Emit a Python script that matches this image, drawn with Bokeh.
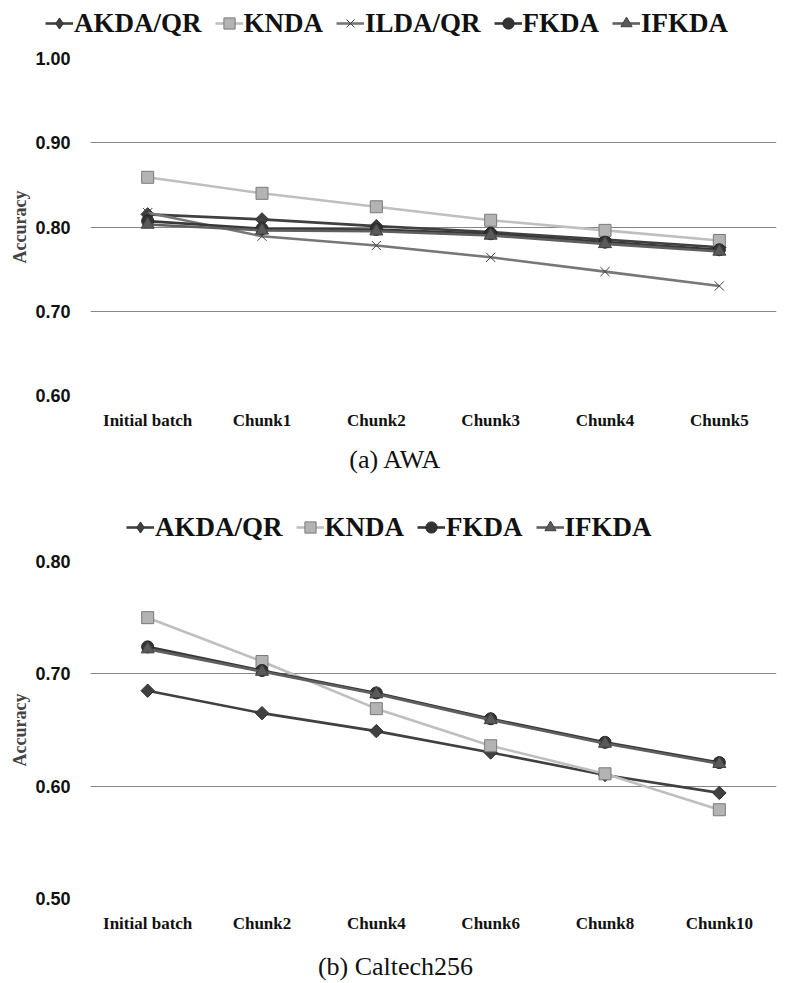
import math
from bokeh.plotting import figure
from bokeh.models import (Range1d, FactorRange, FixedTicker, NumeralTickFormatter,
                          Legend, LegendItem, Label)
from bokeh.layouts import column, row
from bokeh.embed import file_html
from bokeh.resources import INLINE

# ---------------- data ----------------
awa_categories = ["Initial batch", "Chunk1", "Chunk2", "Chunk3", "Chunk4", "Chunk5"]
awa_akda = [0.815, 0.809, 0.801, 0.794, 0.785, 0.776]
awa_knda = [0.859, 0.840, 0.824, 0.808, 0.796, 0.784]
awa_ilda = [0.817, 0.789, 0.778, 0.764, 0.747, 0.730]
awa_fkda = [0.807, 0.798, 0.797, 0.792, 0.782, 0.773]
awa_ifkda = [0.803, 0.796, 0.795, 0.790, 0.780, 0.771]
awa_ticks = [0.60, 0.70, 0.80, 0.90, 1.00]

cal_categories = ["Initial batch", "Chunk2", "Chunk4", "Chunk6", "Chunk8", "Chunk10"]
cal_akda = [0.685, 0.665, 0.649, 0.630, 0.610, 0.594]
cal_knda = [0.750, 0.711, 0.669, 0.636, 0.611, 0.579]
cal_fkda = [0.724, 0.703, 0.683, 0.660, 0.639, 0.621]
cal_ifkda = [0.722, 0.702, 0.682, 0.659, 0.638, 0.620]
cal_ticks = [0.50, 0.60, 0.70, 0.80]

# ---------------- styles ----------------
STYLE = {
    "AKDA/QR": dict(line="#404040", marker="square", size=9.5, fill="#404040", edge="#303030", angle=math.pi / 4),
    "KNDA": dict(line="#bfbfbf", marker="square", size=12, fill="#b3b3b3", edge="#7a7a7a", angle=0),
    "ILDA/QR": dict(line="#777777", marker="x", size=13, fill="#404040", edge="#404040", angle=0),
    "FKDA": dict(line="#383838", marker="circle", size=12, fill="#333333", edge="#222222", angle=0),
    "IFKDA": dict(line="#5f5f5f", marker="triangle", size=13, fill="#5a5a5a", edge="#404040", angle=0),
}

SERIF = "Liberation Serif"
SANS = "Liberation Sans"
W = 784


def blank(height):
    f = figure(width=W, height=height, x_range=Range1d(0, W), y_range=Range1d(0, height),
               x_axis_location=None, y_axis_location=None, output_backend="svg",
               toolbar_location=None, min_border=0)
    f.min_border_left = 0
    f.min_border_right = 0
    f.min_border_top = 0
    f.min_border_bottom = 0
    f.outline_line_color = None
    f.background_fill_color = "white"
    f.border_fill_color = "white"
    f.grid.grid_line_color = None
    return f


def draw(p, name, xs, vals, for_legend=False):
    st = STYLE[name]
    marker = st["marker"]
    angle = st["angle"]
    if for_legend and angle:
        marker, angle = "diamond", 0
    lr = p.line(xs, vals, line_color=st["line"], line_width=2.6)
    sr = p.scatter(xs, vals, marker=marker, size=st["size"],
                   fill_color=st["fill"], line_color=st["edge"], line_width=1,
                   angle=angle)
    return lr, sr


def legend_fig(names, height, x_left, y_bottom):
    f = blank(height)
    items = []
    for name in names:
        # off-screen anchor so that the legend can draw each glyph
        lr, sr = draw(f, name, [-500, -400], [-500, -400], for_legend=True)
        items.append(LegendItem(label=name, renderers=[lr, sr]))
    leg = Legend(items=items, orientation="horizontal", location=(x_left, y_bottom),
                 padding=0, margin=0, spacing=13, glyph_width=28, glyph_height=32,
                 label_height=32, label_standoff=1,
                 label_text_font=SERIF, label_text_font_style="bold",
                 label_text_font_size="27px", label_text_color="#111111",
                 border_line_color=None, background_fill_alpha=0)
    f.add_layout(leg)
    return f


def caption_fig(text, height, y_center_from_top):
    f = blank(height)
    f.add_layout(Label(x=395, y=height - y_center_from_top, text=text,
                       text_align="center", text_baseline="middle",
                       text_font=SERIF, text_font_size="26px", text_color="#111111"))
    return f


def chart(categories, series, y_start, y_end, ticks, height, border_top, border_bottom):
    p = figure(width=W, height=height, x_range=FactorRange(*categories),
               y_range=Range1d(y_start, y_end), output_backend="svg",
               toolbar_location=None, min_border_left=90, min_border_right=8,
               min_border_top=border_top, min_border_bottom=border_bottom)
    p.outline_line_color = None
    p.background_fill_color = "white"
    p.border_fill_color = "white"
    p.xgrid.grid_line_color = None
    p.ygrid.grid_line_color = "#858585"
    p.ygrid.grid_line_width = 1
    p.yaxis.ticker = FixedTicker(ticks=ticks)
    p.yaxis.formatter = NumeralTickFormatter(format="0.00")
    for ax in (p.xaxis[0], p.yaxis[0]):
        ax.axis_line_color = None
        ax.major_tick_line_color = None
        ax.minor_tick_line_color = None
        ax.major_tick_out = 0
        ax.major_tick_in = 0
        ax.minor_tick_out = 0
        ax.major_label_text_color = "#111111"
    p.yaxis.major_label_text_font = SANS
    p.yaxis.major_label_text_font_style = "bold"
    p.yaxis.major_label_text_font_size = "18px"
    p.yaxis.major_label_standoff = 20
    p.yaxis.axis_label = "Accuracy"
    p.yaxis.axis_label_text_font = SERIF
    p.yaxis.axis_label_text_font_style = "bold"
    p.yaxis.axis_label_text_font_size = "18px"
    p.yaxis.axis_label_standoff = 2
    p.xaxis.major_label_text_font = SERIF
    p.xaxis.major_label_text_font_style = "bold"
    p.xaxis.major_label_text_font_size = "17px"
    p.xaxis.major_label_standoff = 15
    for name, vals in series:
        draw(p, name, categories, vals)
    return p


awa_names = ["AKDA/QR", "KNDA", "ILDA/QR", "FKDA", "IFKDA"]
cal_names = ["AKDA/QR", "KNDA", "FKDA", "IFKDA"]

leg1 = legend_fig(awa_names, 46, 45, 7)
ch1 = chart(awa_categories,
            list(zip(awa_names, [awa_akda, awa_knda, awa_ilda, awa_fkda, awa_ifkda])),
            0.60, 1.00, awa_ticks, 394, 12, 45)
cap1 = caption_fig("(a) AWA", 50, 19)

leg2 = legend_fig(cal_names, 60, 126, 7)
ch2 = chart(cal_categories,
            list(zip(cal_names, [cal_akda, cal_knda, cal_fkda, cal_ifkda])),
            0.50, 0.80, cal_ticks, 393, 11, 45)
cap2 = caption_fig("(b) Caltech256", 38, 23)

layout = column(row(leg1), ch1, row(cap1), row(leg2), ch2, row(cap2), spacing=0)
open("out.html", "w").write(file_html(layout, INLINE))
